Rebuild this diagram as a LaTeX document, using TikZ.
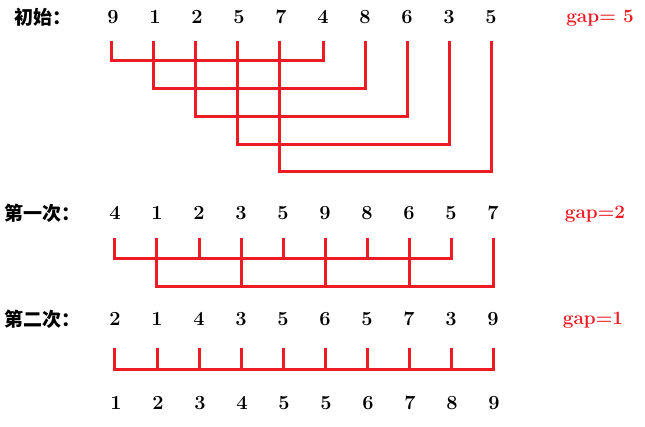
\documentclass[tikz,border=0pt]{standalone}
\usepackage{fontspec}
\newfontfamily\cjk{Noto Sans CJK SC}
\usepackage{tikz}
\usetikzlibrary{calc}
\definecolor{barred}{RGB}{237,28,36}
\tikzset{
	num/.style={font=\fontsize{20}{22}\selectfont\bfseries, inner sep=0pt},
	step label/.style={font=\fontsize{19}{22}\selectfont\cjk\bfseries, anchor=west, inner sep=0pt},
	gap label/.style={font=\fontsize{19}{22}\selectfont\bfseries, text=barred, inner sep=0pt},
	bar/.style={draw=barred, line width=3pt}
}

\begin{document}
\begin{tikzpicture}[x=1pt, y=-1pt]
	\useasboundingbox (0,0) rectangle (645,427);

	% Row labels
	\node[step label] (l1) at (14,17) {初始：};
	\node[step label] (l2) at (4,213) {第一次：};
	\node[step label] (l3) at (4,319) {第二次：};

	% Gap labels
	\node[gap label] (g1) at (600,18) {gap= 5};
	\node[gap label] (g2) at (595,214) {gap=2};
	\node[gap label] (g3) at (593,320) {gap=1};

	% Numbers
	\foreach \v [count=\i from 0] in {9,1,2,5,7,4,8,6,3,5}
		\node[num] (a\i) at ({113+42*\i},17) {\v};
	\foreach \v [count=\i from 0] in {4,1,2,3,5,9,8,6,5,7}
		\node[num] (b\i) at ({115+42*\i},213) {\v};
	\foreach \v [count=\i from 0] in {2,1,4,3,5,6,5,7,3,9}
		\node[num] (c\i) at ({115+42*\i},319) {\v};
	\foreach \v [count=\i from 0] in {1,2,3,4,5,5,6,7,8,9}
		\node[num] (d\i) at ({116+42*\i},403) {\v};

	% gap=5: pairs i, i+5
	\foreach \i in {0,...,4} {
		\pgfmathtruncatemacro\j{\i+5}
		\pgfmathsetmacro\lev{44+27.75*\i}
		\draw[bar] ($(a\i.center)+(-2,24)$) |- ($(a\j.center)+(0,\lev)$) -- ($(a\j.center)+(0,24)$);
	}

	% gap=2: even and odd groups
	\draw[bar] ($(b0.center)+(-1,25)$) |- ($(b8.center)+(0,46)$) -- ($(b8.center)+(0,25)$);
	\foreach \i in {2,4,6}
		\draw[bar] ($(b\i.center)+(0,25)$) -- ($(b\i.center)+(0,46)$);
	\draw[bar] ($(b1.center)+(-1,25)$) |- ($(b9.center)+(0,74)$) -- ($(b9.center)+(0,25)$);
	\foreach \i in {3,5,7}
		\draw[bar] ($(b\i.center)+(0,25)$) -- ($(b\i.center)+(0,74)$);

	% gap=1
	\draw[bar] ($(c0.center)+(-1,29)$) |- ($(c9.center)+(0,51)$) -- ($(c9.center)+(0,29)$);
	\foreach \i in {1,...,8}
		\draw[bar] ($(c\i.center)+(0,29)$) -- ($(c\i.center)+(0,51)$);

\end{tikzpicture}
\end{document}
